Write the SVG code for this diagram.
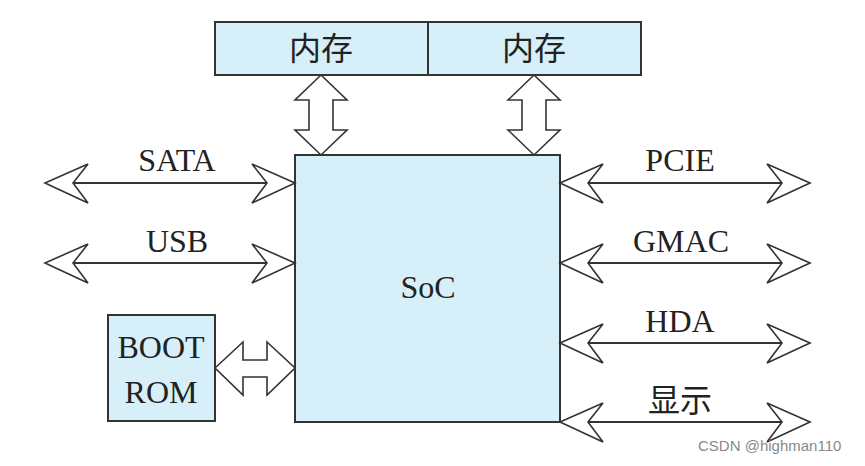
<svg xmlns="http://www.w3.org/2000/svg" width="865" height="466" viewBox="0 0 865 466">
<style>
.box{fill:#d7eff9;stroke:#333;stroke-width:2}
.ar{fill:#fff;stroke:#333;stroke-width:1.6;stroke-linejoin:miter}
.ln{stroke:#333;stroke-width:2;fill:none}
.t{font-family:"Liberation Serif","Noto Sans CJK SC",serif;font-size:32px;fill:#222;text-anchor:middle}
.wm{font-family:"Liberation Sans",sans-serif;font-size:15px;fill:#888}
</style>
<rect width="865" height="466" fill="#fff"/>
<g id="mem1"><rect class="box" x="215" y="22" width="213" height="53"/><text class="t" x="321" y="60">内存</text></g>
<g id="mem2"><rect class="box" x="428" y="22" width="213" height="53"/><text class="t" x="534" y="60">内存</text></g>
<g id="soc"><rect class="box" x="295" y="155" width="265" height="267"/><text class="t" x="428" y="298">SoC</text></g>
<g id="boot"><rect class="box" x="108" y="315" width="107" height="106"/><text class="t" x="161" y="358">BOOT</text><text class="t" x="161" y="403">ROM</text></g>
<g id="connectors">
<path class="ar" d="M321,75 L347,100 L333,100 L333,130 L347,130 L321,155 L295,130 L309,130 L309,100 L295,100 Z"/>
<path class="ar" d="M534,75 L560,100 L546,100 L546,130 L560,130 L534,155 L508,130 L522,130 L522,100 L508,100 Z"/>
<path class="ar" d="M215,368 L243,342 L243,360 L267,360 L267,342 L295,368 L267,395 L267,377 L243,377 L243,395 Z"/>
<path class="ln" d="M73,183 H267 M73,263 H267 M588,183 H782 M588,263 H782 M588,343 H782 M588,422 H782"/>
<path class="ar" d="M45,183 L88,164 L73,183 L88,203 Z"/>
<path class="ar" d="M295,183 L252,164 L267,183 L252,203 Z"/>
<path class="ar" d="M45,263 L88,244 L73,263 L88,283 Z"/>
<path class="ar" d="M295,263 L252,244 L267,263 L252,283 Z"/>
<path class="ar" d="M560,183 L603,164 L588,183 L603,203 Z"/>
<path class="ar" d="M810,183 L767,164 L782,183 L767,203 Z"/>
<path class="ar" d="M560,263 L603,244 L588,263 L603,283 Z"/>
<path class="ar" d="M810,263 L767,244 L782,263 L767,283 Z"/>
<path class="ar" d="M560,343 L603,324 L588,343 L603,363 Z"/>
<path class="ar" d="M810,343 L767,324 L782,343 L767,363 Z"/>
<path class="ar" d="M560,422 L603,403 L588,422 L603,442 Z"/>
<path class="ar" d="M810,422 L767,403 L782,422 L767,442 Z"/>
</g>
<g id="labels">
<text class="t" x="177" y="171">SATA</text>
<text class="t" x="177" y="252">USB</text>
<text class="t" x="680" y="171">PCIE</text>
<text class="t" x="681" y="252">GMAC</text>
<text class="t" x="680" y="332">HDA</text>
<text class="t" x="680" y="412">显示</text>
</g>
<text class="wm" x="698" y="451">CSDN @highman110</text>
</svg>
